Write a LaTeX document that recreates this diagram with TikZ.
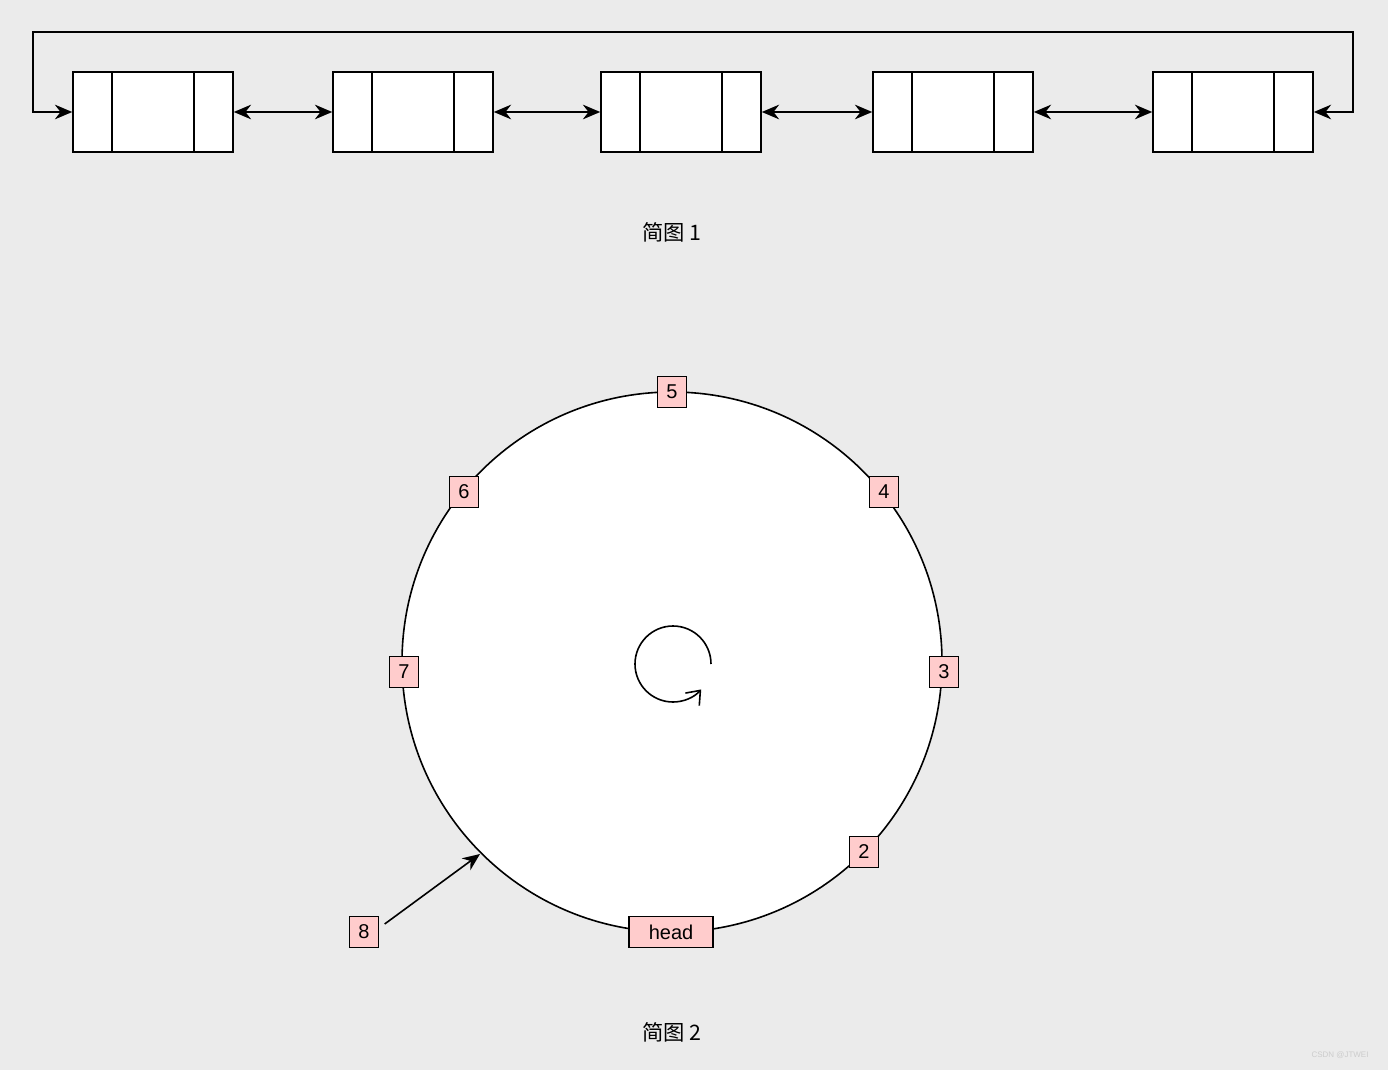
\documentclass[tikz,border=0pt]{standalone}
\usepackage{fontspec}
\setmainfont{Liberation Sans}
\newfontfamily\cjk{Noto Sans CJK SC}
\usetikzlibrary{arrows.meta}
\definecolor{bgray}{RGB}{235,235,235}
\definecolor{pinkbox}{RGB}{255,204,204}
\tikzset{
  cell/.style={draw,fill=white,line width=1.2pt,minimum width=120pt,minimum height=60pt,inner sep=0pt},
  tag/.style={draw,fill=pinkbox,line width=1pt,minimum width=22pt,minimum height=23pt,inner sep=1pt,font=\fontsize{15}{15}\selectfont},
  link/.style={line width=1.2pt,{Stealth[length=13pt,width=11pt]}-{Stealth[length=13pt,width=11pt]}},
}
\begin{document}
\begin{tikzpicture}[x=0.75pt,y=0.75pt,yscale=-1,xscale=1]
\fill[bgray] (0,0) rectangle (1388,1070);
\useasboundingbox (0,0) rectangle (1388,1070);

%Nodes: list cells
\foreach \n/\x in {a/153,b/413,c/681,d/953,e/1233}{
  \node[cell] (\n) at (\x,112) {};
  \draw[line width=1.2pt] ([xshift=30pt]\n.north west) -- ([xshift=30pt]\n.south west);
  \draw[line width=1.2pt] ([xshift=-30pt]\n.north east) -- ([xshift=-30pt]\n.south east);
}
%Connectors between cells
\draw[link] (a.east) -- (b.west);
\draw[link] (b.east) -- (c.west);
\draw[link] (c.east) -- (d.west);
\draw[link] (d.east) -- (e.west);
\draw[link] (e.east) -- (1353,112) -- (1353,32) -- (33,32) -- (33,112) -- (a.west);

% Text Node
\node (cap1) at (672,232) {\fontsize{16}{16}\selectfont\cjk 简图 1};

%Shape: Circle
\draw[fill=white,line width=1.2pt] (672,662) circle [radius=270];
\coordinate (hit) at (480,854);
%Rotation arc
\draw[line width=1.2pt,-{Straight Barb[length=9pt,width=14pt]}] (711,664) arc [start angle=0,end angle=-318,radius=38];

%Nodes: tags
\node[tag] (t5) at (672,392) {5};
\node[tag] (t4) at (884,492) {4};
\node[tag] (t3) at (944,672) {3};
\node[tag] (t2) at (864,852) {2};
\node[tag,minimum width=63pt] (head) at (671,932) {head};
\node[tag] (t7) at (404,672) {7};
\node[tag] (t6) at (464,492) {6};
\node[tag] (t8) at (364,932) {8};
\draw[line width=1.2pt,-{Stealth[length=13pt,width=11pt]}] ([xshift=4pt,yshift=6pt]t8.north east) -- (hit);

% Text Node
\node (cap2) at (672,1032) {\fontsize{16}{16}\selectfont\cjk 简图 2};
\node[text=white!60!gray,font=\fontsize{6}{6}\selectfont] (mark) at (1340,1055) {CSDN @JTWEI};
\end{tikzpicture}
\end{document}
